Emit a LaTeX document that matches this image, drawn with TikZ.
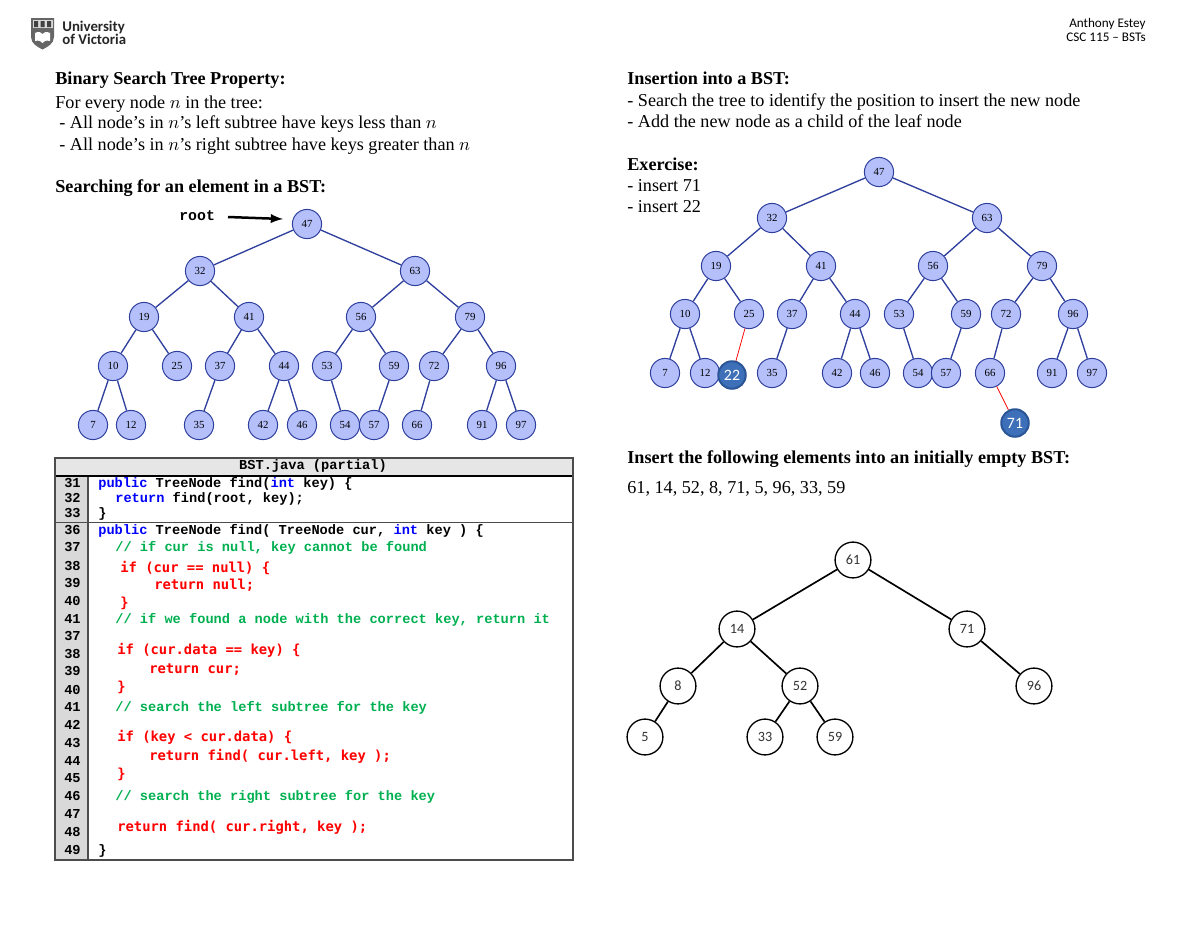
\documentclass[tikz,border=0pt]{standalone}
\usepackage{fontspec}
\usepackage{xcolor}
\setmainfont{Liberation Serif}
\setsansfont{Carlito}
\newfontfamily\codefont{Liberation Mono}
\newfontfamily\redfont{DejaVu Sans Mono}
\definecolor{keyfill}{HTML}{B5C0FA}
\definecolor{keyline}{HTML}{2E3F9E}
\definecolor{newfill}{HTML}{3D70B8}
\definecolor{newline}{HTML}{2A5597}
\definecolor{commentgreen}{HTML}{00B050}
\definecolor{numgray}{HTML}{D9D9D9}
\definecolor{headgray}{HTML}{E6E6E6}
\newcommand{\kw}[1]{\textcolor{blue}{#1}}
\tikzset{
  keynode/.style={circle,draw=keyline,fill=keyfill,line width=.6pt,inner sep=0pt,minimum size=17.5pt,font=\fontsize{6.5}{7}\selectfont},
  newnode/.style={circle,draw=newline,fill=newfill,line width=1.2pt,inner sep=0pt,minimum size=16.5pt,text=white,font=\sffamily\fontsize{9.5}{10}\selectfont},
  plainnode/.style={circle,draw=black,fill=white,line width=.8pt,inner sep=0pt,minimum size=21.5pt,text=black!80,font=\sffamily\fontsize{8.5}{10}\selectfont},
  treeedge/.style={draw=keyline,line width=.8pt},
  newedge/.style={draw=red,line width=.45pt},
  heading/.style={anchor=base west,inner sep=0pt,font=\bfseries\fontsize{10.9}{12}\selectfont},
  bodytext/.style={anchor=base west,inner sep=0pt,font=\fontsize{10.9}{12}\selectfont},
  linenum/.style={anchor=base east,inner sep=0pt,font=\codefont\bfseries\fontsize{8.2}{9}\selectfont},
  codeline/.style={anchor=base west,inner sep=0pt,font=\codefont\bfseries\fontsize{8.2}{9}\selectfont},
  commentline/.style={codeline,text=commentgreen},
  redline/.style={anchor=base west,inner sep=0pt,text=red,font=\redfont\bfseries\fontsize{8.3}{9}\selectfont},
  logotext/.style={anchor=base west,inner sep=0pt,text=black!85,font=\sffamily\bfseries\fontsize{8.9}{10}\selectfont},
  headertext/.style={anchor=base east,inner sep=0pt,font=\sffamily\fontsize{7.9}{9}\selectfont},
}
\begin{document}
\begin{tikzpicture}[x=.6pt,y=-.6pt]
  \useasboundingbox (0,0) rectangle (1200,927);
  % logo
  \fill[black!60] (31,18) -- (54,18) -- (54,37) .. controls (54,44) and (47,47) .. (42.5,49.5) .. controls (38,47) and (31,44) .. (31,37) -- cycle;
  \fill[white!85!black] (32.5,19.5) rectangle (52.5,28);
  \fill[black!75] (34,21) rectangle (38,27) (40.5,21) rectangle (44.5,27) (47,21) rectangle (51,27);
  \fill[white] (35,33) .. controls (39,31) and (41,32) .. (42.5,34) .. controls (44,32) and (46,31) .. (50,33) -- (50,41) .. controls (46,40) and (44,41) .. (42.5,43) .. controls (41,41) and (39,40) .. (35,41) -- cycle;
  \node[logotext] (uni) at (62,31) {University};
  \node[logotext] (vic) at (62,44.5) {of Victoria};
  % page header
  \node[headertext] (author) at (1146,27) {Anthony Estey};
  \node[headertext] (course) at (1146,41) {CSC 115 -- BSTs};
  % left text
  \node[heading] (prop) at (55,84) {Binary Search Tree Property:};
  \node[bodytext] (every) at (55,108) {For every node $n$ in the tree:};
  \node[bodytext] (less) at (59,128) {- All node’s in $n$’s left subtree have keys less than $n$};
  \node[bodytext] (more) at (59,150) {- All node’s in $n$’s right subtree have keys greater than $n$};
  \node[heading] (search) at (55,192) {Searching for an element in a BST:};
  \node[anchor=base west,inner sep=0pt,font=\codefont\bfseries\fontsize{8.9}{9}\selectfont] (root) at (179,220) {root};
  % right text
  \node[heading] (ins) at (627,84) {Insertion into a BST:};
  \node[bodytext] (ins1) at (627,106) {- Search the tree to identify the position to insert the new node};
  \node[bodytext] (ins2) at (627,127) {- Add the new node as a child of the leaf node};
  \node[heading] (ex) at (627,170) {Exercise:};
  \node[bodytext] (ex1) at (627,191) {- insert 71};
  \node[bodytext] (ex2) at (627,212) {- insert 22};
  \node[heading] (empty) at (627,463) {Insert the following elements into an initially empty BST:};
  \node[bodytext] (seq) at (627,493) {61, 14, 52, 8, 71, 5, 96, 33, 59};
  % trees
  \foreach \key/\xa/\ya/\xb/\yb in {47/307/224/879/172,32/200/271/772/218,63/415/271/987/218,
    19/144/317/716/266,41/249/317/821/266,56/361/317/933/266,79/470/317/1042/266,
    10/113/366/685/314,25/177/366/749/314,37/220/366/792/314,44/284/366/855/314,
    53/327/366/899/314,59/394/366/966/314,72/434/366/1006/314,96/501/366/1073/314,
    7/93/425/665/373,12/131/425/705/373,35/199/425/772/373,42/263/425/837/373,46/302/425/875/373,
    54/345/425/918/373,57/374/425/946/373,66/417/425/990/373,91/482/425/1052/373,97/521/425/1092/373}{
    \node[keynode] (a\key) at (\xa,\ya) {\key};
    \node[keynode] (b\key) at (\xb,\yb) {\key};
  }
  \node[newnode] (b22) at (732,375) {22};
  \node[newnode] (b71) at (1015,423) {71};
  \foreach \from/\to in {47/32,47/63,32/19,32/41,63/56,63/79,19/10,19/25,41/37,41/44,56/53,56/59,79/72,79/96,
    10/7,10/12,37/35,44/42,44/46,53/54,59/57,72/66,96/91,96/97}{
    \draw[treeedge] (a\from) -- (a\to);
    \draw[treeedge] (b\from) -- (b\to);
  }
  \draw[newedge] (b25) -- (b22);
  \draw[newedge] (b66) -- (b71);
  % white tree
  \foreach \key/\x/\y in {61/853/560,14/737/629,71/967/629,8/678/686,52/800/686,96/1034/686,5/645/737,33/765/737,59/835/737}
    \node[plainnode] (c\key) at (\x,\y) {\key};
  \foreach \from/\to in {61/14,61/71,14/8,14/52,71/96,8/5,52/33,52/59}
    \draw[black,line width=1pt] (c\from) -- (c\to);
  % root arrow
  \coordinate (rootstart) at (228,217);
  \coordinate (rootend) at (283,219);
  \draw[-latex,line width=1.5pt] (rootstart) -- (rootend);
  % code table
  \fill[headgray] (55,458) rectangle (573,476);
  \fill[numgray] (55,476) rectangle (88,860);
  \draw[black!70,line width=.8pt] (88,476) -- (88,860);
  \draw[black!70,line width=.6pt] (55,522) -- (573,522);
  \draw[black,line width=1.1pt] (55,476) -- (573,476);
  \draw[black!70,line width=1.2pt] (55,458) rectangle (573,860);
  \node[inner sep=0pt,font=\codefont\bfseries\fontsize{8.2}{9}\selectfont] (title) at (313,466) {BST.java (partial)};
  \foreach \num/\y [count=\i] in {31/487,32/502,33/517,36/534,37/551,38/570,39/587,40/605,41/623,37/640,38/658,39/675,40/694,41/711,42/729,43/747,44/765,45/782,46/800,47/818,48/836,49/854}
    \node[linenum] (num\i) at (81,\y) {\num};
  \node[codeline] (c1) at (98,487) {\kw{public} TreeNode find(\kw{int} key) \{};
  \node[codeline] (c2) at (115,502) {\kw{return} find(root, key);};
  \node[codeline] (c3) at (98,517) {\}};
  \node[codeline] (c4) at (98,534) {\kw{public} TreeNode find( TreeNode cur, \kw{int} key ) \{};
  \node[commentline] (c5) at (115,551) {// if cur is null, key cannot be found};
  \node[redline] (c6) at (120,572) {if (cur == null) \{};
  \node[redline] (c7) at (154,589) {return null;};
  \node[redline] (c8) at (120,607) {\}};
  \node[commentline] (c9) at (115,623) {// if we found a node with the correct key, return it};
  \node[redline] (c10) at (117,654) {if (cur.data == key) \{};
  \node[redline] (c11) at (149,673) {return cur;};
  \node[redline] (c12) at (117,691) {\}};
  \node[commentline] (c13) at (115,711) {// search the left subtree for the key};
  \node[redline] (c14) at (117,741) {if (key < cur.data) \{};
  \node[redline] (c15) at (149,760) {return find( cur.left, key );};
  \node[redline] (c16) at (117,778) {\}};
  \node[commentline] (c17) at (115,800) {// search the right subtree for the key};
  \node[redline] (c18) at (117,831) {return find( cur.right, key );};
  \node[codeline] (c19) at (98,854) {\}};
\end{tikzpicture}
\end{document}
